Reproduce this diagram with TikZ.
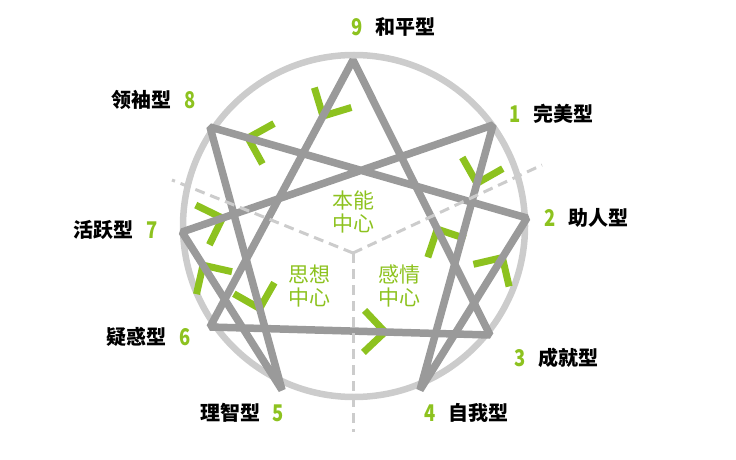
\documentclass[tikz,border=0pt]{standalone}
\usepackage{fontspec}
\newfontfamily\cjk{Noto Sans CJK SC}
\newfontfamily\numfont[FakeStretch=0.8]{Noto Sans CJK SC}
\usetikzlibrary{positioning, decorations.markings}
\definecolor{enngreen}{HTML}{8DC21F}
\definecolor{linegray}{HTML}{9A9A9A}
\definecolor{ringgray}{HTML}{CCCCCC}

\begin{document}
\begin{tikzpicture}[x=1pt, y=-1pt,
  ring/.style={draw=ringgray, line width=6.5pt},
  starline/.style={draw=linegray, line width=7.5pt, line join=bevel},
  divider/.style={draw=ringgray, line width=3pt, dash pattern=on 10pt off 6pt},
  chevron at/.style={postaction={decorate, decoration={markings,
    mark=at position #1 with {\draw[enngreen, line width=7pt, line join=miter] (-21pt,-21pt) -- (0,0) -- (-21pt,21pt);}}}},
  numlbl/.style={font=\numfont\bfseries\fontsize{23}{23}\selectfont, text=enngreen, inner sep=0pt},
  typelbl/.style={font=\cjk\bfseries\fontsize{20}{20}\selectfont, inner sep=0pt},
  centre/.style={font=\cjk\fontsize{21}{23}\selectfont, text=enngreen, align=center, inner sep=0pt}
]
\useasboundingbox (0,0) rectangle (736,460);
\draw[ring] (354,226) circle (171pt);
% points of the star
\coordinate (p9) at (353,60);
\coordinate (p1) at (493,125);
\coordinate (p2) at (527,218);
\coordinate (p3) at (490,335);
\coordinate (p4) at (420,390);
\coordinate (p5) at (282,390);
\coordinate (p6) at (210,327);
\coordinate (p7) at (182,232);
\coordinate (p8) at (210,127);
% arrows, under the lines
\foreach \a/\b/\t in {9/6/0.21, 6/3/0.625, 3/9/0.385, 1/4/0.22, 4/2/0.77, 2/8/0.88, 8/5/0.69, 5/7/0.79, 7/1/0.13}
  \path[chevron at=\t] (p\a) -- (p\b);
\draw[starline] (p9) -- (p3) -- (p6) -- cycle;
\draw[starline] (p1) -- (p4) -- (p2) -- (p8) -- (p5) -- (p7) -- cycle;
% the three centres
\coordinate (hub) at (353,253);
\coordinate (d1) at (172,180);
\coordinate (d2) at (542,165);
\coordinate (d3) at (353,432);
\draw[divider] (hub) -- (d1);
\draw[divider] (hub) -- (d2);
\draw[divider] (hub) -- (d3);
\node[centre] (instinct) at (353,212) {本能\\中心};
\node[centre] (thinking) at (309,286) {思想\\中心};
\node[centre] (feeling) at (399,286) {感情\\中心};
% types
\foreach \n/\x/\y/\lbl in {9/357/27/和平型, 1/515/114/完美型, 2/550/218/助人型, 3/520/358/成就型, 4/430/413/自我型}
{
  \node[numlbl] (n\n) at (\x,\y) {\n};
  \node[typelbl, right=12pt of n\n] (t\n) {\lbl};
}
\foreach \n/\x/\y/\lbl in {5/278/413/理智型, 6/185/337/疑惑型, 7/152/230/活跃型, 8/190/100/领袖型}
{
  \node[numlbl] (n\n) at (\x,\y) {\n};
  \node[typelbl, left=12pt of n\n] (t\n) {\lbl};
}
\end{tikzpicture}
\end{document}
